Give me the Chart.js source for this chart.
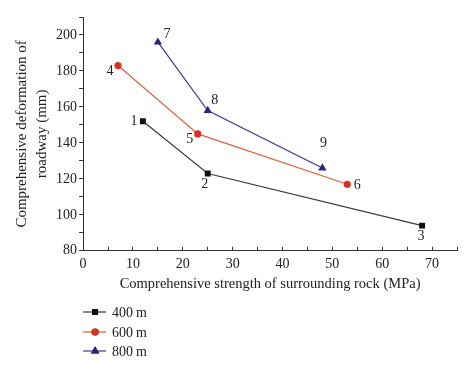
<!DOCTYPE html>
<html>
<head>
<meta charset="utf-8">
<script src="https://cdn.jsdelivr.net/npm/chart.js@4"></script>
<style>
  html, body { margin: 0; padding: 0; background: #fff; }
  #wrap { width: 474px; height: 372px; }
</style>
</head>
<body>
<div id="wrap"><canvas id="chart"></canvas></div>
<script>
// data
const seriesNames = ['400\u2009m', '600\u2009m', '800\u2009m'];
const strength400 = [12, 25, 68];
const deform400 = [152, 123, 94];
const strength600 = [7, 23, 53];
const deform600 = [183, 145, 117];
const strength800 = [15, 25, 48];
const deform800 = [196, 158, 126];
const pointNames400 = ['1', '2', '3'];
const pointNames600 = ['4', '5', '6'];
const pointNames800 = ['7', '8', '9'];

const serif = "'Liberation Serif', 'DejaVu Serif', serif";

function toXY(xs, ys) {
    return xs.map((x, i) => ({ x: x, y: ys[i] }));
}

// where each number sits relative to its point (pixels)
const labelOffsets = {
    '1': [-9, 0], '2': [-3, 11], '3': [-1, 11],
    '4': [-8, 6], '5': [-8, 5], '6': [10, 1],
    '7': [9, -8], '8': [7, -10], '9': [1, -25]
};

const pointLabels = {
    id: 'pointLabels',
    afterDatasetsDraw(chart) {
        const ctx = chart.ctx;
        ctx.save();
        ctx.font = '14px ' + serif;
        ctx.fillStyle = '#222';
        ctx.textAlign = 'center';
        ctx.textBaseline = 'middle';
        chart.data.datasets.forEach((ds, di) => {
            const meta = chart.getDatasetMeta(di);
            meta.data.forEach((pt, i) => {
                const name = ds.names[i];
                const off = labelOffsets[name];
                ctx.fillText(name, pt.x + off[0], pt.y + off[1]);
            });
        });
        ctx.restore();
    }
};

// legend: line with marker, stacked vertically under the x axis title
const lineLegend = {
    id: 'lineLegend',
    afterDraw(chart) {
        const ctx = chart.ctx;
        const x0 = chart.chartArea.left;
        const rows = [312, 332, 351];
        ctx.save();
        chart.data.datasets.forEach((ds, di) => {
            const y = rows[di];
            ctx.strokeStyle = ds.borderColor;
            ctx.lineWidth = 1.2;
            ctx.beginPath();
            ctx.moveTo(x0, y);
            ctx.lineTo(x0 + 23, y);
            ctx.stroke();
            Chart.helpers.drawPoint(ctx, {
                pointStyle: ds.pointStyle,
                radius: ds.pointRadius,
                borderWidth: 0
            }, x0 + 12, y);
            ctx.fillStyle = ds.pointBackgroundColor;
            ctx.fill();
            ctx.fillStyle = '#222';
            ctx.font = '14px ' + serif;
            ctx.textAlign = 'left';
            ctx.textBaseline = 'middle';
            ctx.fillText(ds.label, x0 + 29, y + 1);
        });
        ctx.restore();
    }
};

const chart = new Chart(document.getElementById('chart'), {
    type: 'line',
    data: {
        datasets: [
            {
                label: seriesNames[0],
                data: toXY(strength400, deform400),
                names: pointNames400,
                borderColor: '#3a3a3a',
                pointBackgroundColor: '#111',
                pointBorderColor: '#111',
                pointStyle: 'rect',
                pointRadius: 4.2
            },
            {
                label: seriesNames[1],
                data: toXY(strength600, deform600),
                names: pointNames600,
                borderColor: '#e0603a',
                pointBackgroundColor: '#d8321c',
                pointBorderColor: '#d8321c',
                pointStyle: 'circle',
                pointRadius: 3.6
            },
            {
                label: seriesNames[2],
                data: toXY(strength800, deform800),
                names: pointNames800,
                borderColor: '#3b3b98',
                pointBackgroundColor: '#26267e',
                pointBorderColor: '#26267e',
                pointStyle: 'triangle',
                pointRadius: 4.8
            }
        ]
    },
    options: {
        responsive: true,
        maintainAspectRatio: false,
        animation: false,
        datasets: { line: { borderWidth: 1.2, tension: 0, pointBorderWidth: 0, fill: false } },
        layout: { padding: { top: 17, right: 17, bottom: 79, left: 13 } },
        plugins: {
            legend: { display: false },
            tooltip: { enabled: false }
        },
        scales: {
            x: {
                type: 'linear',
                min: 0,
                max: 75,
                // ticks point into the plot on this axis
                grid: { drawOnChartArea: false, drawTicks: true, tickLength: -4, color: '#333' },
                border: { color: '#333', width: 1 },
                ticks: {
                    stepSize: 5,
                    autoSkip: false,
                    maxRotation: 0,
                    color: '#222',
                    padding: 9,
                    font: { family: serif, size: 14 },
                    callback: v => (v % 10 === 0 ? String(v) : '')
                },
                title: {
                    display: true,
                    text: 'Comprehensive strength of surrounding rock (MPa)',
                    color: '#222',
                    font: { family: serif, size: 14.5 },
                    padding: { top: -6, bottom: 0 }
                }
            },
            y: {
                type: 'linear',
                min: 80,
                max: 210,
                grid: { drawOnChartArea: false, drawTicks: true, tickLength: 4, color: '#333' },
                border: { color: '#333', width: 1 },
                ticks: {
                    stepSize: 10,
                    autoSkip: false,
                    color: '#222',
                    padding: 2,
                    font: { family: serif, size: 14 },
                    callback: v => (v % 20 === 0 && v <= 200 ? String(v) : '')
                },
                title: {
                    display: true,
                    text: ['Comprehensive deformation of', 'roadway (mm)'],
                    color: '#222',
                    font: { family: serif, size: 15, lineHeight: 1.27 },
                    padding: { top: 0, bottom: 3 }
                }
            }
        }
    },
    plugins: [pointLabels, lineLegend]
});
</script>
</body>
</html>
